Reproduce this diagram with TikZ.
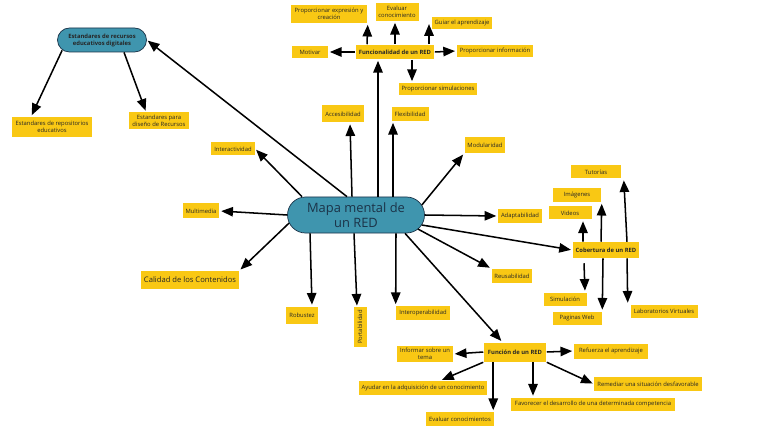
\documentclass[tikz,border=0pt]{standalone}
\usepackage{fontspec}
\setmainfont{Open Sans}
\usetikzlibrary{arrows,positioning}
\definecolor{redteal}{HTML}{3F95AE}
\definecolor{redyellow}{HTML}{F9C814}
\definecolor{reddark}{HTML}{1B3348}
\tikzset{
    %Define standard arrow tip
    >=triangle 45,
    %Define style for yellow labels
    hoja/.style={
           rectangle,
           fill=redyellow,
           inner xsep=2.5pt, inner ysep=1.5pt,
           minimum height=0.4cm,
           font=\fontsize{5}{6}\selectfont,
           text=black!85,
           align=center},
    % Define style for bold labels
    eje/.style={
           hoja,
           font=\fontsize{5}{6}\selectfont\bfseries},
    % Define style for teal bubbles
    nube/.style={
           rectangle,
           fill=redteal,
           draw=reddark, line width=0.6pt,
           align=center}
}

\begin{document}
\begin{tikzpicture}[->,>=triangle 45,shorten >=1pt,line width=1.3pt,x=0.03cm,y=-0.03cm]

\path[use as bounding box, fill=white] (0,0) rectangle (768,431);

\node[nube, minimum width=4.11cm, minimum height=1.08cm, rounded corners=0.54cm,
  text=reddark, font=\fontsize{11}{13}\selectfont](0) at (356,215){Mapa mental de\\un RED};
\node[nube, minimum width=2.67cm, minimum height=0.72cm, rounded corners=0.36cm,
  text=black!85, font=\fontsize{5}{6}\selectfont\bfseries](1) at (102,40){Estandares de recursos\\educativos digitales};
\node[hoja, minimum width=2.4cm, minimum height=0.6cm](2) at (52,127){Estandares de repositorios\\educativos};
\node[hoja, minimum width=1.8cm, minimum height=0.51cm](3) at (159,121){Estandares para\\diseño de Recursos};

\node[eje, minimum width=2.28cm, minimum height=0.42cm](4) at (395,52){Funcionalidad de un RED};
\node[hoja, minimum width=2.28cm, minimum height=0.54cm](5) at (329,14){Proporcionar expresión y\\creación};
\node[hoja, minimum width=1.23cm, minimum height=0.54cm](6) at (397,12){Evaluar\\conocimiento};
\node[hoja, minimum width=1.77cm, minimum height=0.36cm](7) at (462,23){Guiar el aprendizaje};
\node[hoja, minimum width=1.08cm, minimum height=0.36cm](8) at (310,52){Motivar};
\node[hoja, minimum width=2.22cm, minimum height=0.36cm](9) at (495,51){Proporcionar información};
\node[hoja, minimum width=2.31cm, minimum height=0.36cm](10) at (438,89){Proporcionar simulaciones};

\node[hoja, minimum width=1.17cm, minimum height=0.51cm](11) at (343,114){Accesibilidad};
\node[hoja, minimum width=1.11cm, minimum height=0.42cm](12) at (410,114){Flexibilidad};
\node[hoja, minimum width=1.26cm, minimum height=0.39cm](13) at (233,149){Interactividad};
\node[hoja, minimum width=1.05cm, minimum height=0.45cm](14) at (201,211){Multimedia};
\node[hoja, minimum width=1.17cm, minimum height=0.48cm](15) at (485,145){Modularidad};
\node[hoja, minimum width=1.29cm, minimum height=0.42cm](16) at (520,216){Adaptabilidad};
\node[eje, minimum width=1.98cm, minimum height=0.45cm](17) at (606,250){Cobertura de un RED};
\node[hoja, minimum width=1.2cm, minimum height=0.42cm](18) at (512,276){Reusabilidad};
\node[eje, minimum width=1.86cm, minimum height=0.57cm](19) at (515,352){Función de un RED};
\node[hoja, minimum width=2.85cm, minimum height=0.54cm, font=\fontsize{6.5}{8}\selectfont](20) at (190,280){Calidad de los Contenidos};
\node[hoja, minimum width=0.84cm, minimum height=0.51cm](21) at (302,315){Robustez};
\node[hoja, rotate=90, minimum width=1.17cm, minimum height=0.39cm](22) at (360,327){Portabilidad};
\node[hoja, minimum width=1.59cm, minimum height=0.42cm](23) at (423,313){Interoperabilidad};

\node[hoja, minimum width=1.5cm, minimum height=0.39cm](24) at (596,172){Tutorías};
\node[hoja, minimum width=1.44cm, minimum height=0.42cm](25) at (577,195){Imágenes};
\node[hoja, minimum width=1.29cm, minimum height=0.39cm](26) at (570,213){Videos};
\node[hoja, minimum width=1.29cm, minimum height=0.39cm](27) at (565,299){Simulación};
\node[hoja, minimum width=1.47cm, minimum height=0.39cm](28) at (577,318){Paginas Web};
\node[hoja, minimum width=2.01cm, minimum height=0.39cm](29) at (664,311){Laboratorios Virtuales};

\node[hoja, minimum width=1.59cm, minimum height=0.45cm](30) at (425,354){Informar sobre un\\tema};
\node[hoja, minimum width=2.22cm, minimum height=0.45cm](31) at (611,351){Refuerza el aprendizaje};
\node[hoja, minimum width=3.78cm, minimum height=0.42cm](32) at (423,388){Ayudar en la adquisición de un conocimiento};
\node[hoja, minimum width=1.98cm, minimum height=0.42cm](33) at (460,419){Evaluar conocimientos};
\node[hoja, minimum width=4.92cm, minimum height=0.39cm](34) at (593,404){Favorecer el desarrollo de una determinada competencia};
\node[hoja, minimum width=3.15cm, minimum height=0.42cm](35) at (648,384){Remediar una situación desfavorable};

 \path
    ([xshift=-0.27cm]0.north) edge (1.east)
    ([xshift=0.66cm]0.north) edge ([xshift=0.66cm]0.north |- 4.south)
    ([xshift=-0.12cm]0.north) edge ([xshift=0.21cm]11.south)
    ([xshift=1.11cm]0.north) edge ([xshift=1.11cm]0.north |- 12.south)
    ([xshift=-1.62cm]0.north) edge (13.east)
    (0.west) edge (14.east)
    ([xshift=-0.09cm,yshift=0.3cm]0.east) edge (15.south west)
    (0.east) edge (16.west)
    ([xshift=-0.09cm,yshift=-0.3cm]0.east) edge (17.west)
    ([xshift=-0.21cm,yshift=-0.42cm]0.east) edge (18.north west)
    ([xshift=1.47cm]0.south) edge ([xshift=-0.39cm]19.north)
    ([xshift=0.06cm,yshift=-0.24cm]0.west) edge (20.north east)
    ([xshift=-1.38cm]0.south) edge ([xshift=0.3cm]21.north)
    ([xshift=-0.06cm]0.south) edge ([xshift=-0.09cm]22.east)
    ([xshift=1.2cm]0.south) edge (23.north west);

 \path
    ([xshift=0.15cm,yshift=0.06cm]1.south west) edge ([xshift=0.6cm]2.north west)
    ([xshift=0.66cm]1.south) edge ([xshift=-0.39cm]3.north);

 \path
    ([xshift=-0.84cm]4.north) edge (5.south east)
    (4.north) edge (4.north |- 6.south)
    ([xshift=1.02cm]4.north) edge ([xshift=1.02cm]4.north |- 7)
    (4.west) edge (8.east)
    (4.east) edge (9.west)
    ([xshift=0.51cm]4.south) edge ([xshift=0.51cm]4.south |- 10.north);

 \path
    ([xshift=0.63cm]17.north) edge ([xshift=0.06cm]24.south east)
    ([xshift=-0.15cm]17.north) edge (25.south east)
    ([xshift=-0.69cm]17.north) edge ([xshift=0.39cm]26.south)
    ([xshift=-0.66cm,yshift=-0.15cm]17.south) edge ([xshift=0.6cm]27.north)
    ([xshift=-0.09cm]17.south) edge (28.north east)
    ([xshift=0.63cm]17.south) edge ([xshift=-0.06cm]29.north west);

 \path
    (19.west) edge (30.east)
    (19.east) edge (31.west)
    (19.south west) edge ([xshift=0.54cm]32.north)
    ([xshift=0.3cm]19.south west) edge ([xshift=0.3cm]19.south west |- 33.north)
    ([xshift=0.54cm]19.south) edge ([xshift=0.54cm]19.south |- 34.north)
    (19.south east) edge (35.west);

\end{tikzpicture}
\end{document}
